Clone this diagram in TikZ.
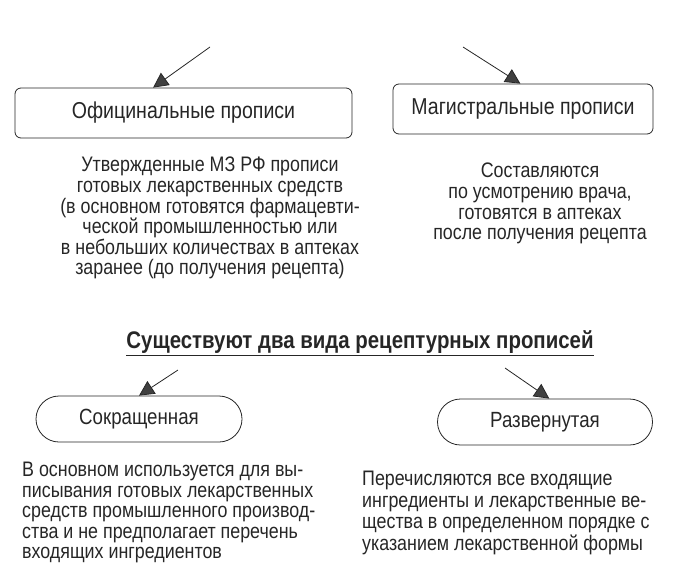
\documentclass[tikz,border=0pt]{standalone}
\usepackage{fontspec}
\setmainfont{Liberation Sans}[FakeStretch=0.85]
\usetikzlibrary{arrows.meta,calc}

\begin{document}
\begin{tikzpicture}[x=1pt, y=-1pt,
    every node/.style={text=black!85},
    kindbox/.style={draw=black!85, thick, rounded corners=6pt, minimum height=50pt, inner sep=0pt, font=\fontsize{23}{26}\selectfont},
    kindpill/.style={draw=black!85, thick, rounded corners=23pt, minimum height=46pt, inner sep=0pt, font=\fontsize{22}{26}\selectfont},
    note/.style={inner sep=0pt, font=\fontsize{21}{20.6}\selectfont},
    pointer/.style={draw=black!85, thick, -{Triangle[length=15pt, width=15pt, fill=black!75]}}]
    \useasboundingbox (0,0) rectangle (687,579);

    % Upper boxes
    \node[kindbox, minimum width=337pt] (ofic) at (183.5,113) {Официнальные прописи};
    \node[kindbox, minimum width=260pt] (magis) at (523,109) {Магистральные прописи};
    \coordinate (ofictop) at (210,47);
    \coordinate (magistop) at (463,47);
    \draw[pointer] (ofictop) -- ($(ofic.north west)!0.41!(ofic.north east)$);
    \draw[pointer] (magistop) -- ($(magis.north west)!0.49!(magis.north east)$);

    % Upper notes
    \node[note, align=center, anchor=north] (ofictxt) at (210,157)
        {Утвержденные МЗ РФ прописи\\ готовых лекарственных средств\\ (в основном готовятся фармацевти-\\ ческой промышленностью или\\ в небольших количествах в аптеках\\ заранее (до получения рецепта)};
    \node[note, align=center, anchor=north] (magistxt) at (540,163)
        {Составляются\\ по усмотрению врача,\\ готовятся в аптеках\\ после получения рецепта};

    % Title
    \node[font=\bfseries\fontsize{24}{26}\selectfont, inner sep=0pt] (title) at (360,343)
        {\underline{Существуют два вида рецептурных прописей}};

    % Lower pills
    \node[kindpill, minimum width=206pt] (short) at (139,419) {Сокращенная};
    \node[kindpill, minimum width=215pt] (full) at (545,422) {Развернутая};
    \coordinate (shorttop) at (178,370);
    \coordinate (fulltop) at (505,368);
    \draw[pointer] (shorttop) -- ($(short.north west)!0.5!(short.north east)$);
    \draw[pointer] (fulltop) -- ($(full.north west)!0.52!(full.north east)$);

    % Lower notes
    \node[note, align=left, anchor=north west, font=\fontsize{21}{20.5}\selectfont] (shorttxt) at (22,462)
        {В основном используется для вы-\\ писывания готовых лекарственных\\ средств промышленного производ-\\ ства и не предполагает перечень\\ входящих ингредиентов};
    \node[note, align=left, anchor=north west, font=\fontsize{21}{21.5}\selectfont] (fulltxt) at (362,471)
        {Перечисляются все входящие\\ ингредиенты и лекарственные ве-\\ щества в определенном порядке с\\ указанием лекарственной формы};
\end{tikzpicture}
\end{document}
